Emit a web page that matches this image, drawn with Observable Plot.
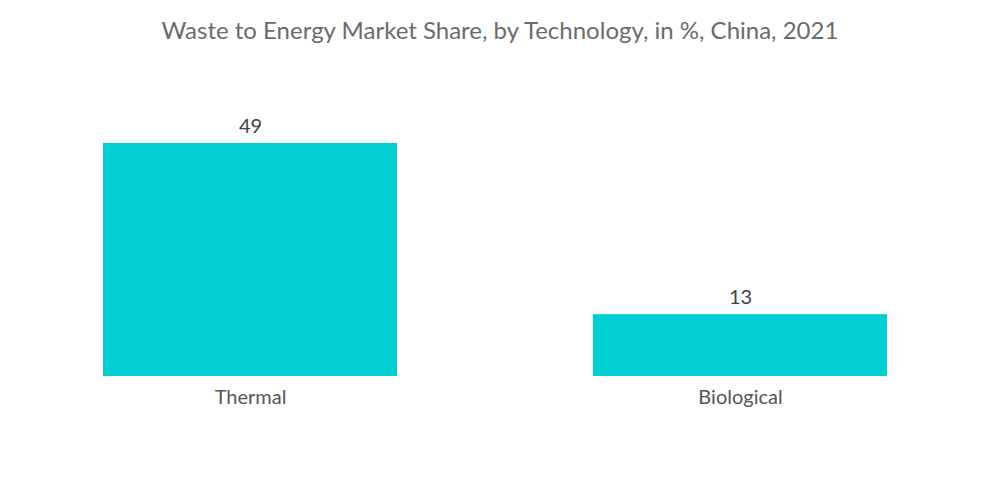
<!DOCTYPE html>
<html>
<head>
<meta charset="utf-8">
<script src="https://cdn.jsdelivr.net/npm/d3@7"></script>
<script src="https://cdn.jsdelivr.net/npm/@observablehq/plot@0.6"></script>
<style>
  body { margin: 0; background: #fff; font-family: Lato, "Open Sans", sans-serif; }
  #title { height: 60px; box-sizing: border-box; padding-top: 15px; text-align: center; font-size: 24px; color: #6b6b6b; }
</style>
</head>
<body>
<div id="title">Waste to Energy Market Share, by Technology, in %, China, 2021</div>
<div id="chart"></div>
<script>
const categories = ["Thermal", "Biological"];
const values = [49, 13];

const data = categories.map((c, i) => ({category: c, value: values[i]}));

const chart = Plot.plot({
  width: 1000,
  height: 444,
  marginTop: 83,
  marginBottom: 128,
  marginLeft: 53,
  marginRight: 64,
  style: {fontFamily: "Lato, 'Open Sans', sans-serif", fontSize: "20px", color: "#555", background: "#fff"},
  x: {domain: categories, padding: 0.4, paddingOuter: 0.1, label: null},
  y: {domain: [0, 49], axis: null},
  marks: [
    Plot.barY(data, {x: "category", y: "value", fill: "#00ced1"}),
    Plot.text(data, {x: "category", y: "value", text: d => String(d.value), dy: -11, lineAnchor: "bottom", fontSize: 20, fill: "#444"}),
    Plot.axisX({tickSize: 0, tickPadding: 13, fontSize: 20, color: "#555", label: null})
  ]
});
document.getElementById("chart").appendChild(chart);
</script>
</body>
</html>
